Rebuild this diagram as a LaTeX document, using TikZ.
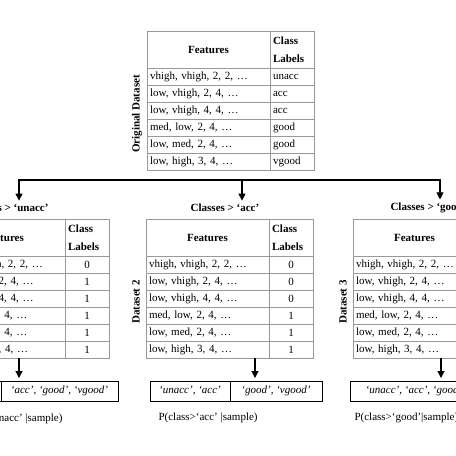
\documentclass[tikz,border=0pt]{standalone}
\usepackage{fontspec}
\setmainfont{Liberation Serif}
\usetikzlibrary{positioning,arrows.meta}

\newcommand{\cellfont}{\fontsize{11}{13}\selectfont}
\newcommand{\featrow}[1]{\ifcase#1\or vhigh, vhigh, 2, 2, …\or low, vhigh, 2, 4, …\or low, vhigh, 4, 4, …\or med, low, 2, 4, …\or low, med, 2, 4, …\or low, high, 3, 4, …\fi}
\newcommand{\leftcell}{\hfill\null}

\begin{document}
\begin{tikzpicture}[x=1pt, y=-1pt, font=\cellfont,
  cell/.style={draw=gray!80, line width=0.6pt, anchor=north west, outer sep=0pt, inner xsep=3pt, inner ysep=0pt, minimum height=17pt},
  feat/.style={cell, text width=117pt, align=left},
  lab/.style={cell, text width=38pt, align=center},
  head/.style={cell, minimum height=37pt, font=\fontsize{11}{18}\selectfont\bfseries},
  part/.style={draw, line width=0.8pt, anchor=north west, outer sep=0pt, inner sep=0pt, minimum height=20pt, font=\cellfont\itshape},
  title/.style={font=\cellfont\bfseries},
  side/.style={rotate=90, font=\cellfont\bfseries},
  arr/.style={-{Triangle[length=7pt, width=7pt]}, line width=1.1pt}]

\useasboundingbox (0,0) rectangle (456,456);
\clip (0,0) rectangle (456,456);

% tables
\foreach \n/\x/\y/\al/\labs/\side in {0/147/31/\leftcell/{unacc,acc,acc,good,good,vgood}/{Original Dataset},
    1/-58/219/\relax/{0,1,1,1,1,1}/{Dataset 1},
    2/146/219/\relax/{0,0,0,1,1,1}/{Dataset 2},
    3/353/219/\relax/{0,0,0,0,0,1}/{Dataset 3}}
{
  \node[head, text width=117pt, align=center] (h\n) at (\x,\y) {Features};
  \node[head, text width=38pt, align=left, right=0pt of h\n] (k\n) {Class\\Labels};
  \foreach \l [count=\i] in \labs {
    \node[feat] (f\n-\i) at (\x, \y+20+17*\i) {\featrow{\i}};
    \node[lab, right=0pt of f\n-\i] (c\n-\i) {\l\al};
  }
  \node[side] (s\n) at (\x-10, \y+83) {\side};
}

% split
\coordinate (l1) at (19,180);
\coordinate (l2) at (242,180);
\coordinate (l3) at (440,180);
\node[title, anchor=east] (t1) at (52,208) {Classes > ‘unacc’};
\node[title] (t2) at (225,208) {Classes > ‘acc’};
\node[title, anchor=west] (t3) at (387,208) {Classes > ‘good’};
\draw[arr, {Triangle[length=7pt, width=7pt]}-{Triangle[length=7pt, width=7pt]}] (l1 |- t1.north) -- (l1) -- (l3) -- (l3 |- t3.north);
\draw[arr] (l2) -- (l2 |- t2.north);

% outputs
\foreach \n/\x/\ax/\wa/\wb/\ta/\tb in {1/-54/19/55/117/{‘unacc’}/{‘acc’, ‘good’, ‘vgood’},
    2/150/255/80/92/{‘unacc’, ‘acc’}/{‘good’, ‘vgood’},
    3/350/441/128/44/{‘unacc’, ‘acc’, ‘good’}/{‘vgood’}}
{
  \node[part, minimum width=\wa pt] (b\n) at (\x,381) {\ta};
  \node[part, minimum width=\wb pt, right=0pt of b\n] (p\n) {\tb};
  \coordinate (x\n) at (\ax,0);
  \draw[arr, shorten >=3pt] (x\n |- f\n-6.south) -- (x\n |- b\n.north);
}

\node[anchor=east] (q1) at (66,419) {P(class>‘unacc’ |sample)};
\node[anchor=west] (q2) at (155,418) {P(class>‘acc’ |sample)};
\node[anchor=west] (q3) at (351,418) {P(class>‘good’|sample)};
\end{tikzpicture}
\end{document}
